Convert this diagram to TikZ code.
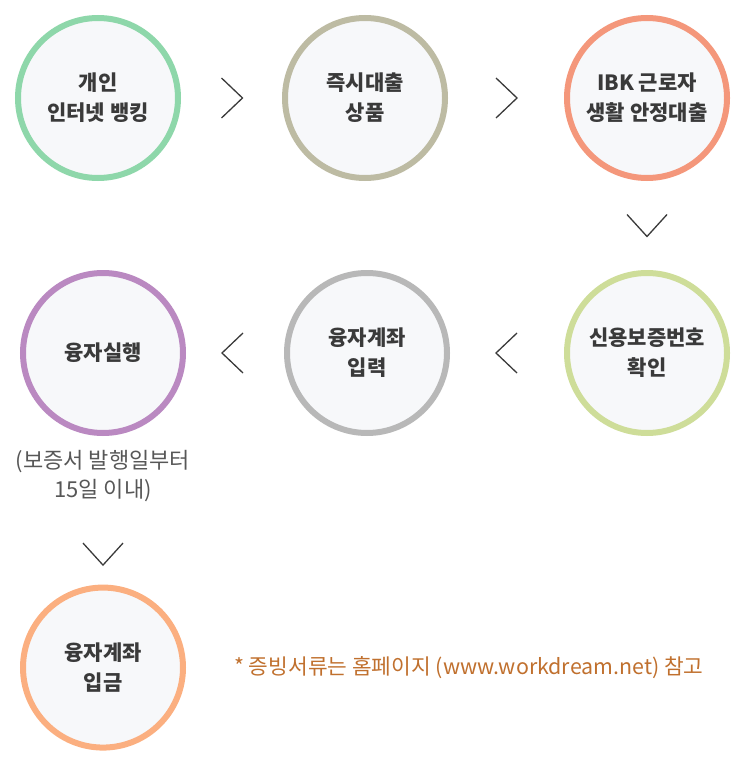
\documentclass[tikz,border=0pt]{standalone}
\usepackage{fontspec}
\setmainfont{Noto Sans CJK KR}
\usepackage{tikz}
\usetikzlibrary{positioning}
\usetikzlibrary{calc}

\definecolor{ringgreen}{HTML}{8ED7AA}
\definecolor{ringolive}{HTML}{BDBBA3}
\definecolor{ringsalmon}{HTML}{F4977B}
\definecolor{ringpurple}{HTML}{BA89C1}
\definecolor{ringgray}{HTML}{B8B8B8}
\definecolor{ringlime}{HTML}{CEDD99}
\definecolor{ringorange}{HTML}{FBAF80}
\definecolor{stepfill}{HTML}{F7F8FA}
\definecolor{steptext}{HTML}{3A3A3A}
\definecolor{notetext}{HTML}{C0702E}

\begin{document}
\begin{tikzpicture}[
  x=1pt, y=-1pt,
  stage/.style={circle, draw=#1, line width=6pt, fill=stepfill, minimum size=160pt,
    inner sep=0pt, align=center, text=steptext, font=\fontsize{21}{30}\selectfont\bfseries},
  chev/.style={line width=1.3pt, steptext, line join=miter}
]
\useasboundingbox (0,0) rectangle (738,762);

% First row
\node[stage=ringgreen] (bank) at (98,98) {개인\\인터넷 뱅킹};
\node[stage=ringolive, right=101pt of bank] (prod) {즉시대출\\상품};
\node[stage=ringsalmon, right=116pt of prod] (ibk) {IBK 근로자\\생활 안정대출};

% Second row, right to left
\node[stage=ringlime, below=89pt of ibk] (guar) {신용보증번호\\확인};
\node[stage=ringgray, left=114pt of guar] (acct) {융자계좌\\입력};
\node[stage=ringpurple, left=98pt of acct] (exec) {융자실행};

% Deadline note and last step
\node[below=11pt of exec, align=center, text=steptext!85, font=\fontsize{22}{29}\selectfont] (limit)
  {(보증서 발행일부터\\15일 이내)};
\node[stage=ringorange, below=79pt of limit] (dep) {융자계좌\\입금};

\node[right=48pt of dep, inner sep=0pt, text=notetext, font=\fontsize{21.4}{24}\selectfont] (docs)
  {* 증빙서류는 홈페이지 (www.workdream.net) 참고};

% Chevrons
\draw[chev] ($(bank)!0.5!(prod)$) ++(-10,-20) -- ++(21,20) -- ++(-21,20);
\draw[chev] ($(prod)!0.5!(ibk)$) ++(-10,-20) -- ++(21,20) -- ++(-21,20);
\draw[chev] ($(ibk)!0.5!(guar)$) ++(-20,-11) -- ++(20,22) -- ++(20,-22);
\draw[chev] ($(acct)!0.5!(guar)$) ++(10,-20) -- ++(-21,20) -- ++(21,20);
\draw[chev] ($(exec)!0.5!(acct)$) ++(8,-20) -- ++(-21,20) -- ++(21,20);
\draw[chev] ($(limit.south)!0.5!(dep.north)$) ++(-20,-2) -- ++(20,22) -- ++(20,-22);

\end{tikzpicture}
\end{document}
